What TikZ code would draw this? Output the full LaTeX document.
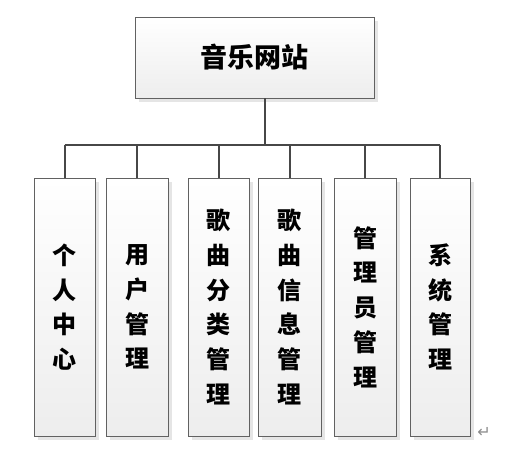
\documentclass[tikz,border=0pt]{standalone}
\usepackage{fontspec}
\newfontfamily\cjk{Noto Sans CJK SC}
\newfontfamily\dejavu{DejaVu Sans}
\usetikzlibrary{shadows}
\tikzset{
  box/.style={draw=black!62, line width=0.9pt, top color=white, bottom color=black!7,
    drop shadow={shadow xshift=3.5pt, shadow yshift=-3.5pt, fill=black!10, opacity=1},
    inner sep=0pt, align=center},
  topbox/.style={box, minimum width=239pt, minimum height=81pt,
    font=\cjk\bfseries\fontsize{27}{30}\selectfont},
  subbox/.style={box, minimum height=258pt,
    font=\cjk\bfseries\fontsize{24}{34.7}\selectfont},
  link/.style={draw=black!72, line width=2pt}
}
\begin{document}
\begin{tikzpicture}[x=1pt,y=-1pt]
\useasboundingbox (0,0) rectangle (510,451);
\node[topbox] (top) at (254.5,57.5) {音乐网站};
\node[subbox, minimum width=61pt] (c1) at (64.5,307) {个\\人\\中\\心};
\node[subbox, minimum width=62pt] (c2) at (137,307) {用\\户\\管\\理};
\node[subbox, minimum width=61pt] (c3) at (218.5,307) {歌\\曲\\分\\类\\管\\理};
\node[subbox, minimum width=63pt] (c4) at (289.5,307) {歌\\曲\\信\\息\\管\\理};
\node[subbox, minimum width=62pt] (c5) at (365,307) {管\\理\\员\\管\\理};
\node[subbox, minimum width=60pt] (c6) at (440,307) {系\\统\\管\\理};
\coordinate (bar) at (265,145);
\path[link] (top.south -| bar) -- (bar);
\path[link] (bar -| c1.north) -- (bar -| c6.north);
\foreach \c in {c1,c2,c3,c4,c5,c6}{
  \path[link] (bar -| \c.north) -- (\c.north);
}
\node[text=black!45, font=\dejavu\fontsize{16}{18}\selectfont, inner sep=0pt] (ret) at (484,432) {↵};
\end{tikzpicture}
\end{document}
